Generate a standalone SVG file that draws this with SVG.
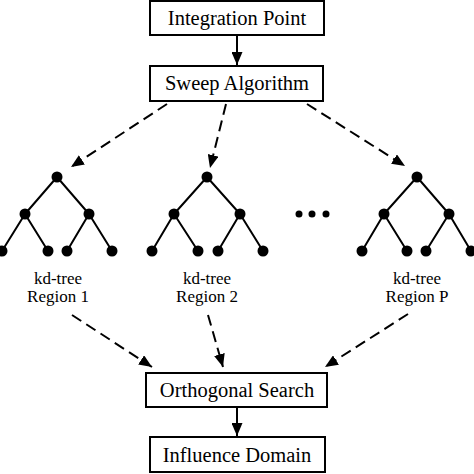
<svg xmlns="http://www.w3.org/2000/svg" width="474" height="474" viewBox="0 0 474 474">
<defs>
<marker id="ah" viewBox="0 0 13 11" refX="13" refY="5.5" markerWidth="13" markerHeight="11" markerUnits="userSpaceOnUse" orient="auto">
<path d="M0,0 L13,5.5 L0,11 Z" fill="#000"/>
</marker>
<style>
.box{fill:#fff;stroke:#000;stroke-width:2}
.bt{font-family:"Liberation Serif",serif;font-size:20.5px;text-anchor:middle;fill:#000}
.lt{font-family:"Liberation Serif",serif;font-size:17px;text-anchor:middle;fill:#000}
.solid{stroke:#000;stroke-width:2;fill:none}
.dash{stroke:#000;stroke-width:2;fill:none;stroke-dasharray:11 6}
.edge{stroke:#000;stroke-width:2;fill:none}
.nd{fill:#000}
</style>
</defs>
<rect width="474" height="474" fill="#fff"/>
<g id="connectors">
<line class="solid" x1="237" y1="35" x2="237" y2="65" marker-end="url(#ah)"/>
<line class="dash" x1="167" y1="104" x2="71" y2="167" marker-end="url(#ah)"/>
<line class="dash" x1="226" y1="104" x2="210" y2="168" marker-end="url(#ah)"/>
<line class="dash" x1="307" y1="104" x2="405" y2="166" marker-end="url(#ah)"/>
<line class="dash" x1="72" y1="315" x2="152" y2="367" marker-end="url(#ah)"/>
<line class="dash" x1="208" y1="315" x2="223" y2="367" marker-end="url(#ah)"/>
<line class="dash" x1="408" y1="314" x2="325" y2="367" marker-end="url(#ah)"/>
<line class="solid" x1="237" y1="407" x2="237" y2="436" marker-end="url(#ah)"/>
</g>
<g id="integration-point">
<rect class="box" x="150" y="1" width="174" height="34"/>
<text class="bt" x="237" y="25">Integration Point</text>
</g>
<g id="sweep-algorithm">
<rect class="box" x="150" y="66" width="173" height="35"/>
<text class="bt" x="237" y="90">Sweep Algorithm</text>
</g>
<g id="tree-1">
<path class="edge" d="M57,177 L25,214 M57,177 L89,214 M25,214 L2,251 M25,214 L48,251 M89,214 L67,251 M89,214 L112,251"/>
<circle class="nd" cx="57" cy="177" r="5.5"/>
<circle class="nd" cx="25" cy="214" r="5.5"/>
<circle class="nd" cx="89" cy="214" r="5.5"/>
<circle class="nd" cx="2" cy="251" r="5.5"/>
<circle class="nd" cx="48" cy="251" r="5.5"/>
<circle class="nd" cx="67" cy="251" r="5.5"/>
<circle class="nd" cx="112" cy="251" r="5.5"/>
<text class="lt" x="58" y="284">kd-tree</text>
<text class="lt" x="58" y="302">Region 1</text>
</g>
<g id="tree-2">
<path class="edge" d="M207,177 L174,214 M207,177 L240,214 M174,214 L152,251 M174,214 L198,251 M240,214 L218,251 M240,214 L263,251"/>
<circle class="nd" cx="207" cy="177" r="5.5"/>
<circle class="nd" cx="174" cy="214" r="5.5"/>
<circle class="nd" cx="240" cy="214" r="5.5"/>
<circle class="nd" cx="152" cy="251" r="5.5"/>
<circle class="nd" cx="198" cy="251" r="5.5"/>
<circle class="nd" cx="218" cy="251" r="5.5"/>
<circle class="nd" cx="263" cy="251" r="5.5"/>
<text class="lt" x="207" y="284">kd-tree</text>
<text class="lt" x="207" y="302">Region 2</text>
</g>
<g id="ellipsis">
<circle class="nd" cx="299" cy="214" r="3.5"/>
<circle class="nd" cx="312" cy="214" r="3.5"/>
<circle class="nd" cx="326" cy="214" r="3.5"/>
</g>
<g id="tree-p">
<path class="edge" d="M417,177 L384,214 M417,177 L449,214 M384,214 L362,251 M384,214 L407,251 M449,214 L426,251 M449,214 L471,251"/>
<circle class="nd" cx="417" cy="177" r="5.5"/>
<circle class="nd" cx="384" cy="214" r="5.5"/>
<circle class="nd" cx="449" cy="214" r="5.5"/>
<circle class="nd" cx="362" cy="251" r="5.5"/>
<circle class="nd" cx="407" cy="251" r="5.5"/>
<circle class="nd" cx="426" cy="251" r="5.5"/>
<circle class="nd" cx="471" cy="251" r="5.5"/>
<text class="lt" x="417" y="284">kd-tree</text>
<text class="lt" x="417" y="302">Region P</text>
</g>
<g id="orthogonal-search">
<rect class="box" x="146" y="373" width="181" height="34"/>
<text class="bt" x="237" y="397">Orthogonal Search</text>
</g>
<g id="influence-domain">
<rect class="box" x="150" y="437" width="175" height="35"/>
<text class="bt" x="237" y="462">Influence Domain</text>
</g>
</svg>
